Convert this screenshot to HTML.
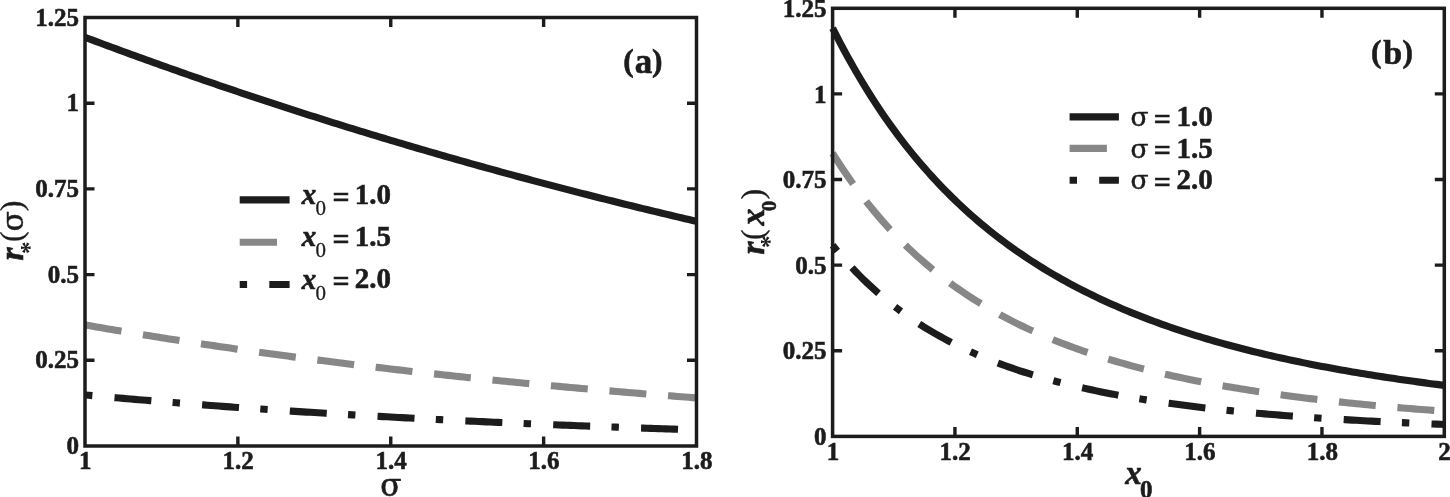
<!DOCTYPE html>
<html><head><meta charset="utf-8"><title>Figure</title>
<style>
html,body{margin:0;padding:0;background:#fff;}
body{width:1450px;height:497px;overflow:hidden;}
svg{display:block;}
text{font-family:"Liberation Serif","DejaVu Serif",serif;fill:#1c1c1c;}
.b{font-weight:bold;stroke:#1c1c1c;stroke-width:0.6px;}
.bi{font-weight:bold;font-style:italic;stroke:#1c1c1c;stroke-width:0.6px;}
.n{font-weight:normal;stroke:#1c1c1c;stroke-width:0.3px;}
.b2{font-weight:bold;}
.g{font-family:"DejaVu Serif","Liberation Serif",serif;font-weight:normal;stroke:#1c1c1c;stroke-width:0.45px;}
.g2{font-family:"DejaVu Serif","Liberation Serif",serif;font-weight:normal;stroke:#1c1c1c;stroke-width:0.7px;}
</style></head><body>
<svg width="1450" height="497" viewBox="0 0 1450 497">
<rect width="1450" height="497" fill="#fff"/>

<g fill="none" stroke-linecap="butt" stroke-linejoin="round">
<path d="M85.00 37.32 L88.82 38.76 L92.64 40.19 L96.47 41.62 L100.29 43.04 L104.11 44.46 L107.93 45.88 L111.75 47.29 L115.58 48.70 L119.40 50.10 L123.22 51.50 L127.04 52.90 L130.86 54.29 L134.68 55.68 L138.51 57.07 L142.33 58.45 L146.15 59.83 L149.97 61.20 L153.79 62.57 L157.62 63.94 L161.44 65.30 L165.26 66.66 L169.08 68.01 L172.90 69.37 L176.73 70.71 L180.55 72.06 L184.37 73.40 L188.19 74.73 L192.01 76.06 L195.83 77.39 L199.66 78.72 L203.48 80.04 L207.30 81.35 L211.12 82.67 L214.94 83.98 L218.77 85.28 L222.59 86.59 L226.41 87.88 L230.23 89.18 L234.05 90.47 L237.87 91.76 L241.70 93.04 L245.52 94.32 L249.34 95.60 L253.16 96.87 L256.98 98.14 L260.81 99.41 L264.63 100.67 L268.45 101.93 L272.27 103.18 L276.09 104.43 L279.92 105.68 L283.74 106.92 L287.56 108.16 L291.38 109.40 L295.20 110.63 L299.03 111.86 L302.85 113.09 L306.67 114.31 L310.49 115.53 L314.31 116.74 L318.13 117.95 L321.96 119.16 L325.78 120.37 L329.60 121.57 L333.42 122.77 L337.24 123.96 L341.07 125.15 L344.89 126.34 L348.71 127.52 L352.53 128.70 L356.35 129.88 L360.17 131.05 L364.00 132.22 L367.82 133.38 L371.64 134.55 L375.46 135.70 L379.28 136.86 L383.11 138.01 L386.93 139.16 L390.75 140.31 L394.57 141.45 L398.39 142.59 L402.22 143.72 L406.04 144.85 L409.86 145.98 L413.68 147.11 L417.50 148.23 L421.32 149.34 L425.15 150.46 L428.97 151.57 L432.79 152.68 L436.61 153.78 L440.43 154.88 L444.26 155.98 L448.08 157.08 L451.90 158.17 L455.72 159.25 L459.54 160.34 L463.37 161.42 L467.19 162.50 L471.01 163.57 L474.83 164.64 L478.65 165.71 L482.48 166.78 L486.30 167.84 L490.12 168.90 L493.94 169.95 L497.76 171.00 L501.58 172.05 L505.41 173.10 L509.23 174.14 L513.05 175.18 L516.87 176.21 L520.69 177.24 L524.52 178.27 L528.34 179.30 L532.16 180.32 L535.98 181.34 L539.80 182.36 L543.62 183.37 L547.45 184.38 L551.27 185.39 L555.09 186.39 L558.91 187.39 L562.73 188.39 L566.56 189.38 L570.38 190.38 L574.20 191.36 L578.02 192.35 L581.84 193.33 L585.67 194.31 L589.49 195.28 L593.31 196.26 L597.13 197.23 L600.95 198.19 L604.78 199.16 L608.60 200.12 L612.42 201.07 L616.24 202.03 L620.06 202.98 L623.88 203.93 L627.71 204.87 L631.53 205.81 L635.35 206.75 L639.17 207.69 L642.99 208.62 L646.82 209.55 L650.64 210.48 L654.46 211.40 L658.28 212.32 L662.10 213.24 L665.92 214.16 L669.75 215.07 L673.57 215.98 L677.39 216.88 L681.21 217.79 L685.03 218.69 L688.86 219.58 L692.68 220.48 L696.50 221.37" stroke="#1c1c1c" stroke-width="7.1"/>
<path d="M85.00 324.91 L88.82 325.58 L92.64 326.25 L96.47 326.91 L100.29 327.57 L104.11 328.23 L107.93 328.88 L111.75 329.53 L115.58 330.18 L119.40 330.82 L123.22 331.46 L127.04 332.09 L130.86 332.73 L134.68 333.36 L138.51 333.99 L142.33 334.61 L146.15 335.23 L149.97 335.85 L153.79 336.46 L157.62 337.07 L161.44 337.68 L165.26 338.29 L169.08 338.89 L172.90 339.49 L176.73 340.08 L180.55 340.68 L184.37 341.27 L188.19 341.85 L192.01 342.44 L195.83 343.02 L199.66 343.60 L203.48 344.17 L207.30 344.74 L211.12 345.31 L214.94 345.88 L218.77 346.44 L222.59 347.00 L226.41 347.56 L230.23 348.11 L234.05 348.67 L237.87 349.22 L241.70 349.76 L245.52 350.30 L249.34 350.84 L253.16 351.38 L256.98 351.92 L260.81 352.45 L264.63 352.98 L268.45 353.51 L272.27 354.03 L276.09 354.55 L279.92 355.07 L283.74 355.58 L287.56 356.10 L291.38 356.61 L295.20 357.12 L299.03 357.62 L302.85 358.12 L306.67 358.62 L310.49 359.12 L314.31 359.62 L318.13 360.11 L321.96 360.60 L325.78 361.08 L329.60 361.57 L333.42 362.05 L337.24 362.53 L341.07 363.01 L344.89 363.48 L348.71 363.95 L352.53 364.42 L356.35 364.89 L360.17 365.36 L364.00 365.82 L367.82 366.28 L371.64 366.73 L375.46 367.19 L379.28 367.64 L383.11 368.09 L386.93 368.54 L390.75 368.98 L394.57 369.43 L398.39 369.87 L402.22 370.31 L406.04 370.74 L409.86 371.18 L413.68 371.61 L417.50 372.04 L421.32 372.46 L425.15 372.89 L428.97 373.31 L432.79 373.73 L436.61 374.15 L440.43 374.57 L444.26 374.98 L448.08 375.39 L451.90 375.80 L455.72 376.21 L459.54 376.61 L463.37 377.01 L467.19 377.41 L471.01 377.81 L474.83 378.21 L478.65 378.60 L482.48 378.99 L486.30 379.38 L490.12 379.77 L493.94 380.16 L497.76 380.54 L501.58 380.92 L505.41 381.30 L509.23 381.68 L513.05 382.06 L516.87 382.43 L520.69 382.80 L524.52 383.17 L528.34 383.54 L532.16 383.90 L535.98 384.27 L539.80 384.63 L543.62 384.99 L547.45 385.35 L551.27 385.70 L555.09 386.06 L558.91 386.41 L562.73 386.76 L566.56 387.11 L570.38 387.45 L574.20 387.80 L578.02 388.14 L581.84 388.48 L585.67 388.82 L589.49 389.16 L593.31 389.49 L597.13 389.82 L600.95 390.16 L604.78 390.49 L608.60 390.81 L612.42 391.14 L616.24 391.46 L620.06 391.79 L623.88 392.11 L627.71 392.43 L631.53 392.74 L635.35 393.06 L639.17 393.37 L642.99 393.69 L646.82 394.00 L650.64 394.30 L654.46 394.61 L658.28 394.92 L662.10 395.22 L665.92 395.52 L669.75 395.82 L673.57 396.12 L677.39 396.42 L681.21 396.71 L685.03 397.01 L688.86 397.30 L692.68 397.59 L696.50 397.88" stroke="#878787" stroke-width="7.1" stroke-dasharray="37 21.75"/>
<path d="M85.00 394.92 L88.82 395.27 L92.64 395.62 L96.47 395.98 L100.29 396.32 L104.11 396.67 L107.93 397.01 L111.75 397.36 L115.58 397.70 L119.40 398.03 L123.22 398.37 L127.04 398.70 L130.86 399.03 L134.68 399.36 L138.51 399.69 L142.33 400.01 L146.15 400.33 L149.97 400.65 L153.79 400.97 L157.62 401.29 L161.44 401.60 L165.26 401.91 L169.08 402.22 L172.90 402.53 L176.73 402.83 L180.55 403.14 L184.37 403.44 L188.19 403.74 L192.01 404.03 L195.83 404.33 L199.66 404.62 L203.48 404.91 L207.30 405.20 L211.12 405.49 L214.94 405.78 L218.77 406.06 L222.59 406.34 L226.41 406.62 L230.23 406.90 L234.05 407.18 L237.87 407.45 L241.70 407.72 L245.52 408.00 L249.34 408.26 L253.16 408.53 L256.98 408.80 L260.81 409.06 L264.63 409.32 L268.45 409.58 L272.27 409.84 L276.09 410.10 L279.92 410.35 L283.74 410.61 L287.56 410.86 L291.38 411.11 L295.20 411.35 L299.03 411.60 L302.85 411.85 L306.67 412.09 L310.49 412.33 L314.31 412.57 L318.13 412.81 L321.96 413.04 L325.78 413.28 L329.60 413.51 L333.42 413.75 L337.24 413.98 L341.07 414.20 L344.89 414.43 L348.71 414.66 L352.53 414.88 L356.35 415.10 L360.17 415.33 L364.00 415.54 L367.82 415.76 L371.64 415.98 L375.46 416.19 L379.28 416.41 L383.11 416.62 L386.93 416.83 L390.75 417.04 L394.57 417.25 L398.39 417.46 L402.22 417.66 L406.04 417.86 L409.86 418.07 L413.68 418.27 L417.50 418.47 L421.32 418.67 L425.15 418.86 L428.97 419.06 L432.79 419.25 L436.61 419.45 L440.43 419.64 L444.26 419.83 L448.08 420.02 L451.90 420.20 L455.72 420.39 L459.54 420.58 L463.37 420.76 L467.19 420.94 L471.01 421.12 L474.83 421.30 L478.65 421.48 L482.48 421.66 L486.30 421.84 L490.12 422.01 L493.94 422.19 L497.76 422.36 L501.58 422.53 L505.41 422.70 L509.23 422.87 L513.05 423.04 L516.87 423.20 L520.69 423.37 L524.52 423.53 L528.34 423.70 L532.16 423.86 L535.98 424.02 L539.80 424.18 L543.62 424.34 L547.45 424.50 L551.27 424.66 L555.09 424.81 L558.91 424.97 L562.73 425.12 L566.56 425.27 L570.38 425.42 L574.20 425.57 L578.02 425.72 L581.84 425.87 L585.67 426.02 L589.49 426.17 L593.31 426.31 L597.13 426.46 L600.95 426.60 L604.78 426.74 L608.60 426.88 L612.42 427.02 L616.24 427.16 L620.06 427.30 L623.88 427.44 L627.71 427.57 L631.53 427.71 L635.35 427.84 L639.17 427.98 L642.99 428.11 L646.82 428.24 L650.64 428.37 L654.46 428.50 L658.28 428.63 L662.10 428.76 L665.92 428.89 L669.75 429.01 L673.57 429.14 L677.39 429.26 L681.21 429.39 L685.03 429.51 L688.86 429.63 L692.68 429.75 L696.50 429.87" stroke="#1c1c1c" stroke-width="7.1" stroke-dasharray="7.4 22.2 37 21.32"/>
</g>
<path d="M237.87 446.00 v-9.5 M237.87 17.50 v9.5 M390.75 446.00 v-9.5 M390.75 17.50 v9.5 M543.62 446.00 v-9.5 M543.62 17.50 v9.5 M85.00 360.30 h9.5 M696.50 360.30 h-9.5 M85.00 274.60 h9.5 M696.50 274.60 h-9.5 M85.00 188.90 h9.5 M696.50 188.90 h-9.5 M85.00 103.20 h9.5 M696.50 103.20 h-9.5" stroke="#1c1c1c" stroke-width="3.4" fill="none"/>
<rect x="85.00" y="17.50" width="611.50" height="428.50" fill="none" stroke="#1c1c1c" stroke-width="3.5"/>
<text class="b" font-size="25" text-anchor="end" x="79.00" y="454.10">0</text>
<text class="b" font-size="25" text-anchor="end" x="79.00" y="368.40">0.25</text>
<text class="b" font-size="25" text-anchor="end" x="79.00" y="282.70">0.5</text>
<text class="b" font-size="25" text-anchor="end" x="79.00" y="197.00">0.75</text>
<text class="b" font-size="25" text-anchor="end" x="79.00" y="111.30">1</text>
<text class="b" font-size="25" text-anchor="end" x="79.00" y="25.60">1.25</text>
<text class="b" font-size="25" text-anchor="middle" x="85.30" y="468.90">1</text>
<text class="b" font-size="25" text-anchor="middle" x="238.17" y="468.90">1.2</text>
<text class="b" font-size="25" text-anchor="middle" x="391.05" y="468.90">1.4</text>
<text class="b" font-size="25" text-anchor="middle" x="543.92" y="468.90">1.6</text>
<text class="b" font-size="25" text-anchor="middle" x="696.80" y="468.90">1.8</text>
<g fill="none" stroke-linecap="butt" stroke-linejoin="round">
<path d="M832.60 28.10 L836.42 35.66 L840.25 43.03 L844.07 50.23 L847.89 57.25 L851.72 64.10 L855.54 70.79 L859.36 77.32 L863.19 83.69 L867.01 89.92 L870.83 95.99 L874.65 101.93 L878.48 107.73 L882.30 113.40 L886.12 118.93 L889.95 124.35 L893.77 129.63 L897.59 134.80 L901.42 139.86 L905.24 144.80 L909.06 149.63 L912.89 154.36 L916.71 158.98 L920.53 163.51 L924.36 167.93 L928.18 172.26 L932.00 176.50 L935.82 180.65 L939.65 184.71 L943.47 188.68 L947.29 192.57 L951.12 196.38 L954.94 200.11 L958.76 203.77 L962.59 207.35 L966.41 210.85 L970.23 214.29 L974.06 217.65 L977.88 220.95 L981.70 224.18 L985.52 227.35 L989.35 230.45 L993.17 233.50 L996.99 236.48 L1000.82 239.41 L1004.64 242.27 L1008.46 245.09 L1012.29 247.85 L1016.11 250.55 L1019.93 253.21 L1023.76 255.81 L1027.58 258.37 L1031.40 260.88 L1035.23 263.34 L1039.05 265.75 L1042.87 268.12 L1046.70 270.45 L1050.52 272.73 L1054.34 274.97 L1058.16 277.17 L1061.99 279.34 L1065.81 281.46 L1069.63 283.54 L1073.46 285.59 L1077.28 287.60 L1081.10 289.58 L1084.93 291.52 L1088.75 293.42 L1092.57 295.30 L1096.40 297.14 L1100.22 298.94 L1104.04 300.72 L1107.87 302.47 L1111.69 304.19 L1115.51 305.87 L1119.33 307.53 L1123.16 309.16 L1126.98 310.77 L1130.80 312.35 L1134.63 313.90 L1138.45 315.42 L1142.27 316.92 L1146.10 318.40 L1149.92 319.85 L1153.74 321.27 L1157.57 322.68 L1161.39 324.06 L1165.21 325.42 L1169.04 326.75 L1172.86 328.07 L1176.68 329.37 L1180.50 330.64 L1184.33 331.89 L1188.15 333.13 L1191.97 334.34 L1195.80 335.54 L1199.62 336.72 L1203.44 337.88 L1207.27 339.02 L1211.09 340.14 L1214.91 341.25 L1218.74 342.34 L1222.56 343.41 L1226.38 344.47 L1230.20 345.51 L1234.03 346.53 L1237.85 347.54 L1241.67 348.54 L1245.50 349.52 L1249.32 350.48 L1253.14 351.43 L1256.97 352.37 L1260.79 353.29 L1264.61 354.20 L1268.44 355.10 L1272.26 355.98 L1276.08 356.85 L1279.91 357.71 L1283.73 358.56 L1287.55 359.39 L1291.38 360.21 L1295.20 361.03 L1299.02 361.82 L1302.84 362.61 L1306.67 363.39 L1310.49 364.15 L1314.31 364.91 L1318.14 365.65 L1321.96 366.39 L1325.78 367.11 L1329.61 367.83 L1333.43 368.53 L1337.25 369.23 L1341.08 369.91 L1344.90 370.59 L1348.72 371.26 L1352.55 371.91 L1356.37 372.56 L1360.19 373.20 L1364.01 373.84 L1367.84 374.46 L1371.66 375.07 L1375.48 375.68 L1379.31 376.28 L1383.13 376.87 L1386.95 377.46 L1390.78 378.03 L1394.60 378.60 L1398.42 379.16 L1402.25 379.71 L1406.07 380.26 L1409.89 380.80 L1413.72 381.33 L1417.54 381.86 L1421.36 382.38 L1425.18 382.89 L1429.01 383.40 L1432.83 383.90 L1436.65 384.39 L1440.48 384.88 L1444.30 385.36" stroke="#1c1c1c" stroke-width="7.1"/>
<path d="M832.60 153.24 L836.42 159.33 L840.25 165.25 L844.07 171.01 L847.89 176.62 L851.72 182.07 L855.54 187.38 L859.36 192.54 L863.19 197.57 L867.01 202.47 L870.83 207.24 L874.65 211.88 L878.48 216.40 L882.30 220.81 L886.12 225.10 L889.95 229.28 L893.77 233.36 L897.59 237.34 L901.42 241.21 L905.24 244.99 L909.06 248.68 L912.89 252.27 L916.71 255.78 L920.53 259.20 L924.36 262.54 L928.18 265.80 L932.00 268.98 L935.82 272.08 L939.65 275.11 L943.47 278.07 L947.29 280.96 L951.12 283.78 L954.94 286.54 L958.76 289.23 L962.59 291.86 L966.41 294.43 L970.23 296.94 L974.06 299.40 L977.88 301.80 L981.70 304.14 L985.52 306.44 L989.35 308.68 L993.17 310.87 L996.99 313.02 L1000.82 315.12 L1004.64 317.17 L1008.46 319.18 L1012.29 321.14 L1016.11 323.06 L1019.93 324.94 L1023.76 326.79 L1027.58 328.59 L1031.40 330.35 L1035.23 332.08 L1039.05 333.77 L1042.87 335.43 L1046.70 337.05 L1050.52 338.64 L1054.34 340.19 L1058.16 341.72 L1061.99 343.21 L1065.81 344.68 L1069.63 346.11 L1073.46 347.51 L1077.28 348.89 L1081.10 350.24 L1084.93 351.56 L1088.75 352.86 L1092.57 354.13 L1096.40 355.38 L1100.22 356.60 L1104.04 357.80 L1107.87 358.98 L1111.69 360.13 L1115.51 361.26 L1119.33 362.37 L1123.16 363.46 L1126.98 364.53 L1130.80 365.58 L1134.63 366.61 L1138.45 367.62 L1142.27 368.61 L1146.10 369.58 L1149.92 370.54 L1153.74 371.47 L1157.57 372.39 L1161.39 373.30 L1165.21 374.18 L1169.04 375.06 L1172.86 375.91 L1176.68 376.75 L1180.50 377.58 L1184.33 378.39 L1188.15 379.18 L1191.97 379.97 L1195.80 380.73 L1199.62 381.49 L1203.44 382.23 L1207.27 382.96 L1211.09 383.68 L1214.91 384.38 L1218.74 385.07 L1222.56 385.75 L1226.38 386.42 L1230.20 387.08 L1234.03 387.73 L1237.85 388.36 L1241.67 388.99 L1245.50 389.60 L1249.32 390.21 L1253.14 390.80 L1256.97 391.39 L1260.79 391.96 L1264.61 392.53 L1268.44 393.08 L1272.26 393.63 L1276.08 394.17 L1279.91 394.70 L1283.73 395.22 L1287.55 395.73 L1291.38 396.24 L1295.20 396.73 L1299.02 397.22 L1302.84 397.70 L1306.67 398.18 L1310.49 398.64 L1314.31 399.10 L1318.14 399.55 L1321.96 400.00 L1325.78 400.43 L1329.61 400.87 L1333.43 401.29 L1337.25 401.71 L1341.08 402.12 L1344.90 402.52 L1348.72 402.92 L1352.55 403.32 L1356.37 403.70 L1360.19 404.09 L1364.01 404.46 L1367.84 404.83 L1371.66 405.20 L1375.48 405.55 L1379.31 405.91 L1383.13 406.26 L1386.95 406.60 L1390.78 406.94 L1394.60 407.27 L1398.42 407.60 L1402.25 407.93 L1406.07 408.24 L1409.89 408.56 L1413.72 408.87 L1417.54 409.18 L1421.36 409.48 L1425.18 409.77 L1429.01 410.07 L1432.83 410.36 L1436.65 410.64 L1440.48 410.92 L1444.30 411.20" stroke="#878787" stroke-width="7.1" stroke-dasharray="37 21.75"/>
<path d="M832.60 245.30 L836.42 250.00 L840.25 254.56 L844.07 258.98 L847.89 263.27 L851.72 267.43 L855.54 271.46 L859.36 275.38 L863.19 279.18 L867.01 282.87 L870.83 286.45 L874.65 289.92 L878.48 293.30 L882.30 296.58 L886.12 299.77 L889.95 302.86 L893.77 305.87 L897.59 308.80 L901.42 311.64 L905.24 314.41 L909.06 317.09 L912.89 319.71 L916.71 322.25 L920.53 324.73 L924.36 327.14 L928.18 329.48 L932.00 331.76 L935.82 333.98 L939.65 336.14 L943.47 338.25 L947.29 340.30 L951.12 342.29 L954.94 344.24 L958.76 346.13 L962.59 347.98 L966.41 349.78 L970.23 351.54 L974.06 353.25 L977.88 354.91 L981.70 356.54 L985.52 358.12 L989.35 359.67 L993.17 361.18 L996.99 362.65 L1000.82 364.08 L1004.64 365.49 L1008.46 366.85 L1012.29 368.19 L1016.11 369.49 L1019.93 370.76 L1023.76 372.00 L1027.58 373.21 L1031.40 374.40 L1035.23 375.55 L1039.05 376.68 L1042.87 377.79 L1046.70 378.86 L1050.52 379.92 L1054.34 380.95 L1058.16 381.95 L1061.99 382.94 L1065.81 383.90 L1069.63 384.84 L1073.46 385.76 L1077.28 386.65 L1081.10 387.53 L1084.93 388.39 L1088.75 389.23 L1092.57 390.05 L1096.40 390.86 L1100.22 391.65 L1104.04 392.42 L1107.87 393.17 L1111.69 393.91 L1115.51 394.63 L1119.33 395.33 L1123.16 396.03 L1126.98 396.70 L1130.80 397.37 L1134.63 398.02 L1138.45 398.65 L1142.27 399.27 L1146.10 399.88 L1149.92 400.48 L1153.74 401.07 L1157.57 401.64 L1161.39 402.20 L1165.21 402.75 L1169.04 403.29 L1172.86 403.82 L1176.68 404.34 L1180.50 404.85 L1184.33 405.34 L1188.15 405.83 L1191.97 406.31 L1195.80 406.78 L1199.62 407.24 L1203.44 407.69 L1207.27 408.13 L1211.09 408.57 L1214.91 408.99 L1218.74 409.41 L1222.56 409.82 L1226.38 410.22 L1230.20 410.62 L1234.03 411.00 L1237.85 411.38 L1241.67 411.76 L1245.50 412.12 L1249.32 412.48 L1253.14 412.83 L1256.97 413.18 L1260.79 413.52 L1264.61 413.85 L1268.44 414.18 L1272.26 414.50 L1276.08 414.82 L1279.91 415.13 L1283.73 415.43 L1287.55 415.73 L1291.38 416.02 L1295.20 416.31 L1299.02 416.60 L1302.84 416.87 L1306.67 417.15 L1310.49 417.42 L1314.31 417.68 L1318.14 417.94 L1321.96 418.20 L1325.78 418.45 L1329.61 418.69 L1333.43 418.93 L1337.25 419.17 L1341.08 419.41 L1344.90 419.64 L1348.72 419.86 L1352.55 420.09 L1356.37 420.30 L1360.19 420.52 L1364.01 420.73 L1367.84 420.94 L1371.66 421.14 L1375.48 421.34 L1379.31 421.54 L1383.13 421.74 L1386.95 421.93 L1390.78 422.12 L1394.60 422.30 L1398.42 422.48 L1402.25 422.66 L1406.07 422.84 L1409.89 423.01 L1413.72 423.18 L1417.54 423.35 L1421.36 423.52 L1425.18 423.68 L1429.01 423.84 L1432.83 424.00 L1436.65 424.15 L1440.48 424.31 L1444.30 424.46" stroke="#1c1c1c" stroke-width="7.1" stroke-dasharray="7.4 22.2 37 21.32"/>
</g>
<path d="M954.94 436.40 v-9.5 M954.94 8.30 v9.5 M1077.28 436.40 v-9.5 M1077.28 8.30 v9.5 M1199.62 436.40 v-9.5 M1199.62 8.30 v9.5 M1321.96 436.40 v-9.5 M1321.96 8.30 v9.5 M832.60 350.78 h9.5 M1444.30 350.78 h-9.5 M832.60 265.16 h9.5 M1444.30 265.16 h-9.5 M832.60 179.54 h9.5 M1444.30 179.54 h-9.5 M832.60 93.92 h9.5 M1444.30 93.92 h-9.5" stroke="#1c1c1c" stroke-width="3.4" fill="none"/>
<rect x="832.60" y="8.30" width="611.70" height="428.10" fill="none" stroke="#1c1c1c" stroke-width="3.5"/>
<text class="b" font-size="25" text-anchor="end" x="826.60" y="445.00">0</text>
<text class="b" font-size="25" text-anchor="end" x="826.60" y="359.38">0.25</text>
<text class="b" font-size="25" text-anchor="end" x="826.60" y="273.76">0.5</text>
<text class="b" font-size="25" text-anchor="end" x="826.60" y="188.14">0.75</text>
<text class="b" font-size="25" text-anchor="end" x="826.60" y="102.52">1</text>
<text class="b" font-size="25" text-anchor="end" x="826.60" y="16.90">1.25</text>
<text class="b" font-size="25" text-anchor="middle" x="832.90" y="460.10">1</text>
<text class="b" font-size="25" text-anchor="middle" x="955.24" y="460.10">1.2</text>
<text class="b" font-size="25" text-anchor="middle" x="1077.58" y="460.10">1.4</text>
<text class="b" font-size="25" text-anchor="middle" x="1199.92" y="460.10">1.6</text>
<text class="b" font-size="25" text-anchor="middle" x="1322.26" y="460.10">1.8</text>
<text class="b" font-size="25" text-anchor="middle" x="1444.60" y="460.10">2</text>
<path d="M239.7 199.9 H289.6" stroke="#1c1c1c" stroke-width="7.1"/>
<path d="M239.7 242.3 H277.0" stroke="#878787" stroke-width="7.1"/>
<path d="M239.7 284.5 H289.6" stroke="#1c1c1c" stroke-width="7.1" stroke-dasharray="7.4 22.2 40 10"/>
<text class="bi" font-size="29" x="301.70" y="203.90">x</text>
<text class="n" font-size="21" x="315.50" y="215.00">0</text>
<text class="b" font-size="30" x="332.40" y="206.50">=</text>
<text class="b" font-size="29" x="354.80" y="203.80">1.0</text>
<text class="bi" font-size="29" x="301.70" y="246.30">x</text>
<text class="n" font-size="21" x="315.50" y="257.40">0</text>
<text class="b" font-size="30" x="332.40" y="248.90">=</text>
<text class="b" font-size="29" x="354.80" y="246.20">1.5</text>
<text class="bi" font-size="29" x="301.70" y="288.50">x</text>
<text class="n" font-size="21" x="315.50" y="299.60">0</text>
<text class="b" font-size="30" x="332.40" y="291.10">=</text>
<text class="b" font-size="29" x="354.80" y="288.40">2.0</text>
<path d="M1069.6 116.9 H1118.9" stroke="#1c1c1c" stroke-width="7.1"/>
<path d="M1069.6 148.4 H1106.9" stroke="#878787" stroke-width="7.1"/>
<path d="M1069.6 180.3 H1118.9" stroke="#1c1c1c" stroke-width="7.1" stroke-dasharray="7.4 22.2 40 10"/>
<text class="g" font-size="26.5" x="1130.40" y="126.00">σ</text>
<text class="b" font-size="30" x="1153.70" y="128.80">=</text>
<text class="b" font-size="29" x="1176.40" y="126.00">1.0</text>
<text class="g" font-size="26.5" x="1130.40" y="157.50">σ</text>
<text class="b" font-size="30" x="1153.70" y="160.30">=</text>
<text class="b" font-size="29" x="1176.40" y="157.50">1.5</text>
<text class="g" font-size="26.5" x="1130.40" y="189.40">σ</text>
<text class="b" font-size="30" x="1153.70" y="192.20">=</text>
<text class="b" font-size="29" x="1176.40" y="189.40">2.0</text>
<text class="b" font-size="31.5" x="623.20" y="71.10">(</text>
<text class="b" font-size="35" x="634.75" y="73.20">a</text>
<text class="b" font-size="31.5" x="652.00" y="71.10">)</text>
<text class="b" font-size="31.5" x="1371.00" y="62.00">(</text>
<text class="b" font-size="34" x="1383.20" y="64.00">b</text>
<text class="b" font-size="31.5" x="1402.50" y="62.00">)</text>
<text class="g2" font-size="31" x="380.30" y="496.30">σ</text>
<text class="bi" font-size="33" x="1125.30" y="483.90">x</text>
<text class="b" font-size="25" x="1140.10" y="497.70">0</text>
<g transform="translate(22.80 260.60) rotate(-90)">
<text class="bi" font-size="33.5" x="0.00" y="0.00">r</text>
<text class="b2" font-size="25" x="6.60" y="15.00">*</text>
<text class="n" font-size="32" x="18.70" y="-1.20">(</text>
<text class="g" font-size="30" x="29.00" y="0.00">σ</text>
<text class="n" font-size="32" x="49.40" y="-1.20">)</text>
</g>
<g transform="translate(763.80 255.20) rotate(-90)">
<text class="bi" font-size="33.5" x="0.70" y="0.00">r</text>
<text class="b2" font-size="25" x="7.10" y="14.40">*</text>
<text class="n" font-size="32" x="15.20" y="-1.30">(</text>
<text class="bi" font-size="34" x="29.70" y="0.00">x</text>
<text class="b" font-size="21" x="44.00" y="12.50">0</text>
<text class="n" font-size="32" x="55.80" y="-1.30">)</text>
</g>
</svg></body></html>
